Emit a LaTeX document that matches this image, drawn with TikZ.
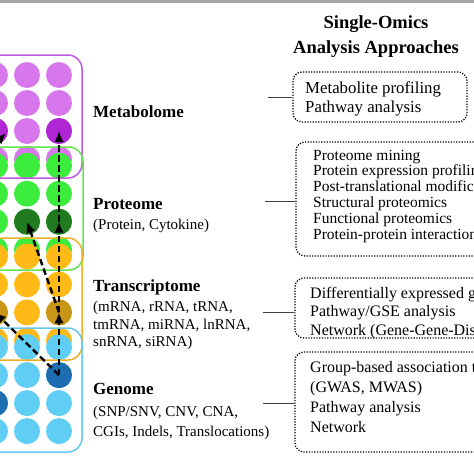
\documentclass[tikz,border=0pt]{standalone}
\usepackage{fontspec}
\setmainfont{Liberation Serif}
\usetikzlibrary{arrows.meta}
\definecolor{pL}{RGB}{216,118,236}
\definecolor{pD}{RGB}{176,38,212}
\definecolor{gL}{RGB}{60,236,60}
\definecolor{gD}{RGB}{32,122,32}
\definecolor{oL}{RGB}{255,186,24}
\definecolor{oD}{RGB}{200,150,22}
\definecolor{bL}{RGB}{96,206,244}
\definecolor{bD}{RGB}{28,110,176}
\definecolor{pE}{RGB}{190,90,225}
\definecolor{gE}{RGB}{100,226,80}
\definecolor{oE}{RGB}{236,176,40}
\definecolor{bE}{RGB}{100,200,236}
\begin{document}
\begin{tikzpicture}[x=1pt,y=-1pt,
  dot/.style={circle,minimum size=26pt,inner sep=0pt},
  grp/.style={line width=1.5pt,rounded corners=14pt},
  arr/.style={line width=2.4pt,dash pattern=on 6.5pt off 3.5pt,-{Latex[length=11pt,width=9.5pt]}},
  dbox/.style={draw,line width=1.3pt,dash pattern=on 1.2pt off 1.5pt,rounded corners=9pt,inner sep=0pt},
  link/.style={line width=0.9pt,black!75},
  lab/.style={font=\fontsize{17}{20}\selectfont\bfseries,anchor=base west,inner sep=0pt},
  sub/.style={anchor=base west,align=left,inner sep=0pt},
  btxt/.style={anchor=base west,align=left,inner sep=0pt}]
\useasboundingbox (0,0) rectangle (474,474);
\clip (0,0) rectangle (474,474);
\fill[white] (0,0) rectangle (474,474);
\fill[black!35] (0,0) rectangle (474,3);
% circles
\foreach \g/\ty/\lc in {1/75/pL,2/165.7/gL,3/256.4/oL,4/347.1/bL}{
  \foreach \r in {1,...,4}{
    \foreach \c/\x in {1/-5,2/27,3/59}{
      \node[dot,fill=\lc] (c\g\r\c) at (\x,{\ty+28*\r-28}) {};
    }
  }
}
\fill[pD] (c131.center) circle (13pt);
\fill[pD] (c133.center) circle (13pt);
\fill[gD] (c232.center) circle (13pt);
\fill[gD] (c233.center) circle (13pt);
\fill[oD] (c331.center) circle (13pt);
\fill[oD] (c333.center) circle (13pt);
\fill[bD] (c423.center) circle (13pt);
\fill[bD] (c431.center) circle (13pt);
% group boxes
\draw[grp,pE] (-30,55) rectangle (82,178);
\draw[grp,gE] (-30,147) rectangle (83,270);
\draw[grp,oE] (-30,238) rectangle (82,360);
\draw[grp,bE] (-30,328) rectangle (82,452);
% arrows
\draw[arr] (c423.center) -- (c333.center);
\draw[arr] (c423.center) -- (c331.center);
\draw[arr] (c333.center) -- (c233.center);
\draw[arr] (c233.center) -- (c133.center);
\draw[arr] (c333.center) -- (c232.center);
\coordinate (a6s) at (-45,185);
\coordinate (a6e) at (6,133);
\draw[arr] (a6s) -- (a6e);
% omics labels (base = baseline of last line)
\node[lab] (lmet) at (93,117) {Metabolome};
\node[lab] (lpro) at (93,209) {Proteome};
\node[sub,font=\fontsize{15}{17.5}\selectfont] (spro) at (93,229.5) {(Protein, Cytokine)};
\node[lab] (ltra) at (93,291) {Transcriptome};
\node[sub,font=\fontsize{15}{17.5}\selectfont] (stra) at (93,346.5) {(mRNA, rRNA, tRNA,\\tmRNA, miRNA, lnRNA,\\snRNA, siRNA)};
\node[lab] (lgen) at (93,394) {Genome};
\node[sub,font=\fontsize{15}{20}\selectfont] (sgen) at (93,436.5) {(SNP/SNV, CNV, CNA,\\CGIs, Indels, Translocations)};
% title
\node[font=\fontsize{18.5}{25}\selectfont\bfseries,align=center,anchor=base,inner sep=0pt] (title) at (376,53) {Single-Omics\\Analysis Approaches};
% analysis boxes
\node[dbox,minimum width=174pt,minimum height=50pt] (b1) at (380,97) {};
\node[dbox,minimum width=300pt,minimum height=114pt] (b2) at (446,199) {};
\node[dbox,minimum width=300pt,minimum height=60pt] (b3) at (445,308) {};
\node[dbox,minimum width=300pt,minimum height=100pt] (b4) at (445,402) {};
\node[btxt,font=\fontsize{16.8}{19}\selectfont] (t1) at (305,112.5) {Metabolite profiling\\Pathway analysis};
\node[btxt,font=\fontsize{15.5}{15.8}\selectfont] (t2) at (313,239) {Proteome mining\\Protein expression profiling\\Post-translational modification\\Structural proteomics\\Functional proteomics\\Protein-protein interaction};
\node[btxt,font=\fontsize{16}{18.5}\selectfont] (t3) at (310,335) {Differentially expressed genes\\Pathway/GSE analysis\\Network (Gene-Gene-Disease)};
\node[btxt,font=\fontsize{16}{20}\selectfont] (t4) at (310,432) {Group-based association test\\(GWAS, MWAS)\\Pathway analysis\\Network};
% connectors
\coordinate (k1) at (268,97);
\coordinate (k2) at (265,201);
\coordinate (k3) at (263,312);
\coordinate (k4) at (263,403);
\draw[link] (k1) -- (k1 -| b1.west);
\draw[link] (k2) -- (k2 -| b2.west);
\draw[link] (k3) -- (k3 -| b3.west);
\draw[link] (k4) -- (k4 -| b4.west);
\end{tikzpicture}
\end{document}
